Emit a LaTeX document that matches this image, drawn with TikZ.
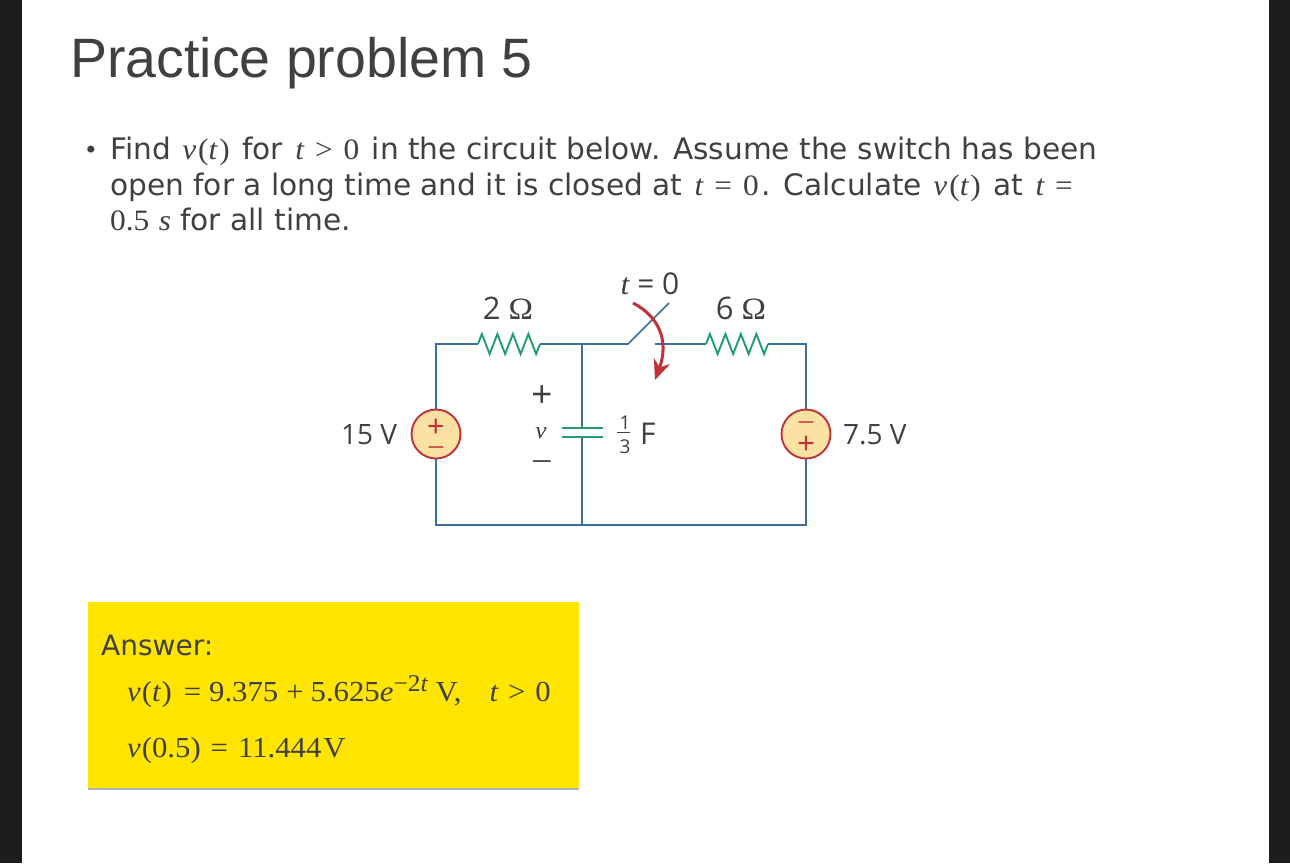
\documentclass[tikz,border=0pt]{standalone}
\usepackage{fontspec}
\setmainfont{DejaVu Sans}
\newfontfamily\titlefont{Liberation Sans}
\newfontfamily\labelfont{Open Sans}
\newfontfamily\mathsfont[FakeStretch=1.06]{Liberation Serif}
\usetikzlibrary{positioning}
\usetikzlibrary{arrows.meta}
\usetikzlibrary{decorations.pathmorphing}
\definecolor{inkgrey}{HTML}{404040}
\definecolor{wireblue}{HTML}{3A6F9E}
\definecolor{partgreen}{HTML}{1F9D6F}
\definecolor{partred}{HTML}{C0323A}
\definecolor{sourcefill}{HTML}{FBE2A2}
\definecolor{answeryellow}{HTML}{FFE500}
\definecolor{sidebar}{HTML}{1B1D1F}
\newcommand{\mi}[1]{{\mathsfont\itshape #1}}
\newcommand{\mr}[1]{{\mathsfont #1}}
\newcommand{\bodymath}[1]{\kern3pt\relax{\mathsfont\spaceskip=11pt\relax #1}\kern3pt\relax}
\newcommand{\vt}{\kern2pt\mi{v}\kern2pt\mr{(}\mi{t}\kern2pt\mr{)}\kern3pt\relax}
\begin{document}
\begin{tikzpicture}[x=1pt,y=-1pt,>=Stealth,
                wire/.style={draw=wireblue,line width=1.7pt},
                part/.style={draw=partgreen,line width=1.9pt},
                resistor/.style={part,decorate,decoration={zigzag,segment length=15.5pt,amplitude=10pt}},
                source node/.style={circle,draw=partred,fill=sourcefill,line width=1.9pt,minimum size=49pt,inner sep=0pt},
                sign node/.style={text=partred,font=\fontsize{30}{30}\selectfont\titlefont,inner sep=0pt,anchor=base},
                value node/.style={text=inkgrey,font=\fontsize{28}{28}\selectfont\labelfont,inner sep=0pt,anchor=base},
                body node/.style={text=inkgrey,font=\fontsize{29.6}{34}\selectfont,inner sep=0pt,anchor=base west},
                answer node/.style={text=inkgrey,font=\fontsize{29}{32}\selectfont\mathsfont,inner sep=0pt,anchor=base west}]

  \useasboundingbox[fill=white] (0,0) rectangle (1290,863);
  \fill[sidebar] (0,0) rectangle (22,863);
  \fill[sidebar] (1269,0) rectangle (1290,863);

  % heading and problem text
  \node[text=inkgrey,font=\fontsize{55.5}{60}\selectfont\titlefont,inner sep=0pt,anchor=base west] (title) at (70,77) {Practice problem 5};
  \node[text=inkgrey,font=\fontsize{24}{30}\selectfont,inner sep=0pt] (bullet) at (91,152) {•};
  \node[body node] (line1) at (110,159) {Find \vt{} for \bodymath{\mi{t} > 0} in the circuit below. Assume the switch has been};
  \node[body node] (line2) at (110,195) {open for a long time and it is closed at \bodymath{\mi{t} = 0}. Calculate \vt{} at \bodymath{\mi{t} =}};
  \node[body node] (line3) at (110,230) {\mr{0.5} \mi{s} for all time.};

  % corners and junctions
  \coordinate (tl) at (436,344);
  \coordinate (bl) at (436,525);
  \coordinate (tm) at (582,344);
  \coordinate (bm) at (582,525);
  \coordinate (tr) at (806,344);
  \coordinate (br) at (806,525);
  \coordinate (r1a) at (478,344);
  \coordinate (r1b) at (540,344);
  \coordinate (r2a) at (706,344);
  \coordinate (r2b) at (768,344);
  \coordinate (swa) at (628,344);
  \coordinate (swb) at (655,344);
  \coordinate (swtip) at (669,303);
  \coordinate (capt) at (582,428);
  \coordinate (capb) at (582,437);
  \coordinate (captl) at (562,428);
  \coordinate (captr) at (603,428);
  \coordinate (capbl) at (562,437);
  \coordinate (capbr) at (603,437);
  \coordinate (arrowa) at (633,303);
  \coordinate (arrowb) at (655,380);

  \node[source node] (v1) at (436,434) {};
  \node[source node] (v2) at (806,434) {};
  \node[sign node] (v1p) at (436,436) {+};
  \node[sign node] (v1m) at (436,457) {\mr{−}};
  \node[sign node] (v2m) at (806,432) {\mr{−}};
  \node[sign node] (v2p) at (806,453) {+};

  \draw[wire] (v1) -- (tl) -- (r1a);
  \draw[wire] (r1b) -- (tm) -- (swa) -- (swtip);
  \draw[wire] (swb) -- (r2a);
  \draw[wire] (r2b) -- (tr) -- (v2);
  \draw[wire] (v1) -- (bl) -- (br) -- (v2);
  \draw[wire] (tm) -- (capt);
  \draw[wire] (capb) -- (bm);
  \draw[resistor] (r1a) -- (r1b);
  \draw[resistor] (r2a) -- (r2b);
  \draw[part] (captl) -- (captr);
  \draw[part] (capbl) -- (capbr);
  \draw[partred,line width=3pt,-{Stealth[length=20pt,width=17pt]}] (arrowa) .. controls (660,317) and (669,342) .. (arrowb);

  % circuit labels
  \node[value node,font=\fontsize{31}{31}\selectfont\labelfont] (r1val) at (508,319) {2 \mr{Ω}};
  \node[value node,font=\fontsize{31}{31}\selectfont\labelfont] (r2val) at (741,319) {6 \mr{Ω}};
  \node[value node,font=\fontsize{30}{30}\selectfont\labelfont] (swval) at (650,294) {\mi{t} = 0};
  \node[value node,anchor=base west] (v1val) at (341,444) {15 V};
  \node[value node,anchor=base west] (v2val) at (843,444) {7.5 V};
  \node[value node,font=\fontsize{36}{36}\selectfont\titlefont] (vplus) at (542,406) {+};
  \node[value node,font=\fontsize{24}{24}\selectfont\mathsfont\itshape] (vname) at (541,438) {v};
  \node[value node,font=\fontsize{36}{36}\selectfont\titlefont] (vminus) at (542,473) {\mr{−}};
  \node[value node,font=\fontsize{19}{19}\selectfont\labelfont] (capnum) at (625,429) {1};
  \node[value node,font=\fontsize{19}{19}\selectfont\labelfont] (capden) at (625,453) {3};
  \draw[inkgrey,line width=1.3pt] (capnum.south west) ++(-2,3) -- ++(13,0);
  \node[value node,font=\fontsize{30}{30}\selectfont\labelfont,anchor=base west] (capval) at (640,444) {F};

  % answer box
  \fill[answeryellow] (88,602) rectangle (579,788);
  \fill[black!30] (88,788) rectangle (579,790);
  \node[text=inkgrey,font=\fontsize{28}{32}\selectfont,inner sep=0pt,anchor=base west] (answer) at (101,655) {Answer:};
  \node[answer node] (ans1) at (127,701) {\mi{v}\kern1pt(\mi{t}\kern1pt)\hspace{12pt}=\hspace{8pt}9.375\hspace{8pt}+\hspace{7pt}5.625\mi{e}\raisebox{10pt}{\fontsize{24}{24}\selectfont −2\mi{t}}\hspace{8pt}V,\hspace{28pt}\mi{t}\hspace{10pt}>\hspace{10pt}0};
  \node[answer node] (ans2) at (127,757) {\mi{v}\kern1pt(0.5)\hspace{10pt}=\hspace{10pt}11.444\hspace{2pt}V};

\end{tikzpicture}
\end{document}
